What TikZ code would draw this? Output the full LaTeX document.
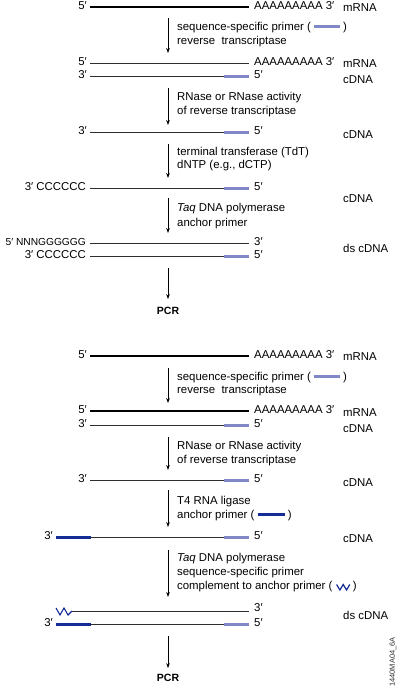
\documentclass[tikz,border=0pt]{standalone}
\usepackage{fontspec}
\setmainfont{Liberation Sans}
\usetikzlibrary{arrows.meta}
\definecolor{lblue}{RGB}{128,136,200}
\definecolor{dblue}{RGB}{20,45,150}
\definecolor{strand}{RGB}{45,45,45}
\newcommand{\pr}{\char"2032}
\begin{document}
\begin{tikzpicture}[x=1pt,y=-1pt,
  lbl/.style={font=\fontsize{11.4}{13}\selectfont, inner sep=0pt, text height=8pt, text depth=2.4pt},
  leftlbl/.style={lbl, anchor=east},
  rightlbl/.style={lbl, anchor=west},
  steptxt/.style={lbl, anchor=west},
  thickstrand/.style={line width=2.4pt, black},
  thinstrand/.style={line width=0.9pt, strand},
  lprimer/.style={line width=3pt, lblue},
  dprimer/.style={line width=3pt, dblue},
  flow/.style={-{Stealth[length=5pt,width=3.6pt]}, line width=0.7pt, black},
  pcr/.style={font=\fontsize{10.5}{12}\selectfont\bfseries, inner sep=0pt}
]
\useasboundingbox (0,0) rectangle (400,688);

% ===================== Panel A =====================
\coordinate (a1l) at (90,7); \coordinate (a1r) at (249,7);
\node[leftlbl] (a1L) at (87,7) {5\pr};
\node[rightlbl] (a1R) at (254,7) {AAAAAAAAA 3\pr};
\node[rightlbl] (a1T) at (343,9) {mRNA};
\draw[thickstrand] (a1l) -- (a1r);
\coordinate (ar1s) at (168,18); \coordinate (ar1e) at (168,53);
\draw[flow] (ar1s) -- (ar1e);
\node[steptxt] (t1a) at (177,28) {sequence-specific primer ( {\color{lblue}\rule[2.4pt]{26pt}{3pt}} )};
\node[steptxt] (t1b) at (177,42) {reverse\ \ transcriptase};
\coordinate (a2l) at (90,63); \coordinate (a2r) at (249,63);
\node[leftlbl] (a2L) at (87,63) {5\pr};
\node[rightlbl] (a2R) at (254,63) {AAAAAAAAA 3\pr};
\node[rightlbl] (a2T) at (343,65) {mRNA};
\draw[thinstrand] (a2l) -- (a2r);
\coordinate (a3l) at (90,76); \coordinate (a3m) at (224,76); \coordinate (a3r) at (249,76);
\node[leftlbl] (a3L) at (87,76) {3\pr};
\node[rightlbl] (a3R) at (254,76) {5\pr};
\node[rightlbl] (a3T) at (343,81) {cDNA};
\draw[thinstrand] (a3l) -- (a3m);
\draw[lprimer] (a3m) -- (a3r);
\coordinate (ar2s) at (168,88); \coordinate (ar2e) at (168,125);
\draw[flow] (ar2s) -- (ar2e);
\node[steptxt] (t2a) at (177,98) {RNase or RNase activity};
\node[steptxt] (t2b) at (177,112) {of reverse transcriptase};
\coordinate (a4l) at (90,132); \coordinate (a4m) at (224,132); \coordinate (a4r) at (249,132);
\node[leftlbl] (a4L) at (87,132) {3\pr};
\node[rightlbl] (a4R) at (254,132) {5\pr};
\node[rightlbl] (a4T) at (343,136) {cDNA};
\draw[thinstrand] (a4l) -- (a4m);
\draw[lprimer] (a4m) -- (a4r);
\coordinate (ar3s) at (168,144); \coordinate (ar3e) at (168,178);
\draw[flow] (ar3s) -- (ar3e);
\node[steptxt] (t3a) at (177,153) {terminal transferase (TdT)};
\node[steptxt] (t3b) at (177,166) {dNTP (e.g., dCTP)};
\coordinate (a5l) at (90,188); \coordinate (a5m) at (224,188); \coordinate (a5r) at (249,188);
\node[leftlbl] (a5L) at (86,188) {3\pr\ CCCCCC};
\node[rightlbl] (a5R) at (254,188) {5\pr};
\node[rightlbl] (a5T) at (343,200) {cDNA};
\draw[thinstrand] (a5l) -- (a5m);
\draw[lprimer] (a5m) -- (a5r);
\coordinate (ar4s) at (168,198); \coordinate (ar4e) at (168,233);
\draw[flow] (ar4s) -- (ar4e);
\node[steptxt] (t4a) at (177,209) {\itshape Taq\upshape\ DNA polymerase};
\node[steptxt] (t4b) at (177,224) {anchor primer};
\coordinate (a6l) at (90,243); \coordinate (a6r) at (249,243);
\node[leftlbl, font=\fontsize{10.2}{13}\selectfont] (a6L) at (86,243) {5\pr\ NNNGGGGGG};
\node[rightlbl] (a6R) at (254,243) {3\pr};
\draw[thinstrand] (a6l) -- (a6r);
\coordinate (a7l) at (90,256); \coordinate (a7m) at (224,256); \coordinate (a7r) at (249,256);
\node[leftlbl] (a7L) at (86,256) {3\pr\ CCCCCC};
\node[rightlbl] (a7R) at (254,256) {5\pr};
\node[rightlbl] (a7T) at (343,250) {ds cDNA};
\draw[thinstrand] (a7l) -- (a7m);
\draw[lprimer] (a7m) -- (a7r);
\node[pcr] (pcrA) at (168,311) {PCR};
\coordinate (ar5s) at (168,268);
\draw[flow, shorten >=8pt] (ar5s) -- (pcrA.north);

% ===================== Panel B =====================
\coordinate (b1l) at (90,356); \coordinate (b1r) at (249,356);
\node[leftlbl] (b1L) at (87,356) {5\pr};
\node[rightlbl] (b1R) at (254,356) {AAAAAAAAA 3\pr};
\node[rightlbl] (b1T) at (343,358) {mRNA};
\draw[thickstrand] (b1l) -- (b1r);
\coordinate (br1s) at (168,368); \coordinate (br1e) at (168,403);
\draw[flow] (br1s) -- (br1e);
\node[steptxt] (u1a) at (177,378) {sequence-specific primer ( {\color{lblue}\rule[2.4pt]{26pt}{3pt}} )};
\node[steptxt] (u1b) at (177,391) {reverse\ \ transcriptase};
\coordinate (b2l) at (90,411); \coordinate (b2r) at (249,411);
\node[leftlbl] (b2L) at (87,411) {5\pr};
\node[rightlbl] (b2R) at (254,411) {AAAAAAAAA 3\pr};
\node[rightlbl] (b2T) at (343,414) {mRNA};
\draw[thickstrand] (b2l) -- (b2r);
\coordinate (b3l) at (90,425); \coordinate (b3m) at (224,425); \coordinate (b3r) at (249,425);
\node[leftlbl] (b3L) at (87,425) {3\pr};
\node[rightlbl] (b3R) at (254,425) {5\pr};
\node[rightlbl] (b3T) at (343,430) {cDNA};
\draw[thinstrand] (b3l) -- (b3m);
\draw[lprimer] (b3m) -- (b3r);
\coordinate (br2s) at (168,437); \coordinate (br2e) at (168,470);
\draw[flow] (br2s) -- (br2e);
\node[steptxt] (u2a) at (177,447) {RNase or RNase activity};
\node[steptxt] (u2b) at (177,461) {of reverse transcriptase};
\coordinate (b4l) at (90,480); \coordinate (b4m) at (224,480); \coordinate (b4r) at (249,480);
\node[leftlbl] (b4L) at (87,480) {3\pr};
\node[rightlbl] (b4R) at (254,480) {5\pr};
\node[rightlbl] (b4T) at (343,484) {cDNA};
\draw[thinstrand] (b4l) -- (b4m);
\draw[lprimer] (b4m) -- (b4r);
\coordinate (br3s) at (168,490); \coordinate (br3e) at (168,527);
\draw[flow] (br3s) -- (br3e);
\node[steptxt] (u3a) at (177,502) {T4 RNA ligase};
\node[steptxt] (u3b) at (177,516) {anchor primer ( {\color{dblue}\rule[2.4pt]{27pt}{3pt}} )};
\coordinate (b5l) at (56,537); \coordinate (b5k) at (91,537); \coordinate (b5m) at (224,537); \coordinate (b5r) at (249,537);
\node[leftlbl] (b5L) at (53,537) {3\pr};
\node[rightlbl] (b5R) at (254,537) {5\pr};
\node[rightlbl] (b5T) at (343,540) {cDNA};
\draw[thinstrand] (b5k) -- (b5m);
\draw[dprimer] (b5l) -- (b5k);
\draw[lprimer] (b5m) -- (b5r);
\coordinate (br4s) at (168,550); \coordinate (br4e) at (168,597);
\draw[flow] (br4s) -- (br4e);
\node[steptxt] (u4a) at (177,559) {\itshape Taq\upshape\ DNA polymerase};
\node[steptxt] (u4b) at (177,573) {sequence-specific primer};
\node[steptxt] (u4c) at (177,587) {complement to anchor primer (};
\draw[dblue, line width=1.2pt, line join=miter] ([xshift=4pt,yshift=2.5pt]u4c.east) -- ++(3.3,5.5) -- ++(3.3,-5.5) -- ++(3.3,5.5) -- ++(3.3,-5.5);
\node[rightlbl] (u4d) at ([xshift=20pt]u4c.east) {)};
\coordinate (b6z) at (56,608); \coordinate (b6l) at (72,611); \coordinate (b6r) at (249,611);
\node[rightlbl] (b6R) at (254,609) {3\pr};
\draw[thinstrand] (b6l) -- (b6r);
\draw[dblue, line width=1.1pt, line join=miter] (b6z) -- ++(4,7) -- ++(4,-7) -- ++(4,7) -- (b6l);
\coordinate (b7l) at (56,624); \coordinate (b7k) at (91,624); \coordinate (b7m) at (224,624); \coordinate (b7r) at (249,624);
\node[leftlbl] (b7L) at (53,624) {3\pr};
\node[rightlbl] (b7R) at (254,624) {5\pr};
\node[rightlbl] (b7T) at (343,617) {ds cDNA};
\draw[thinstrand] (b7k) -- (b7m);
\draw[dprimer] (b7l) -- (b7k);
\draw[lprimer] (b7m) -- (b7r);
\node[pcr] (pcrB) at (168,678) {PCR};
\coordinate (br5s) at (168,636);
\draw[flow, shorten >=6pt] (br5s) -- (pcrB.north);

\node[font=\fontsize{7.5}{8}\selectfont, inner sep=0pt, rotate=90, text=black!80] (code) at (393,662) {1440MA04\_6A};
\end{tikzpicture}
\end{document}
